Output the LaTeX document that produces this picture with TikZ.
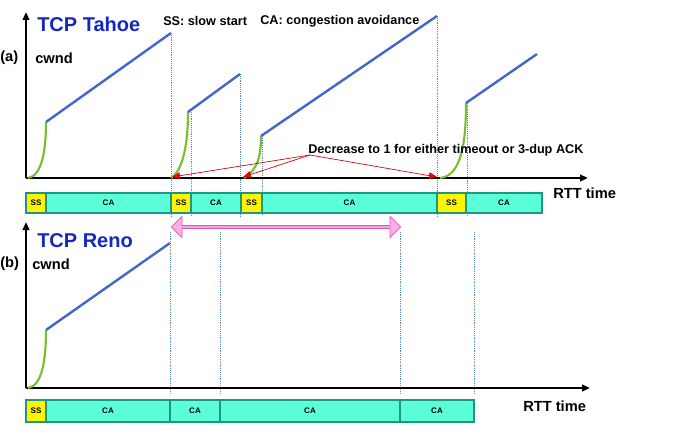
\documentclass[tikz,border=0pt]{standalone}
\usepackage{fontspec}
\setmainfont{Liberation Sans}
\usetikzlibrary{arrows.meta,shapes.arrows}
\definecolor{cablue}{RGB}{68,102,204}
\definecolor{ssgreen}{RGB}{120,190,50}
\definecolor{teal1}{RGB}{90,255,215}
\definecolor{tealb}{RGB}{30,150,130}
\definecolor{ssy}{RGB}{255,245,0}
\definecolor{pinkf}{RGB}{250,175,230}
\definecolor{pinkd}{RGB}{220,90,190}
\definecolor{titleblue}{RGB}{20,40,190}
\tikzset{
 axis/.style={line width=1.6pt,-{Triangle[length=6pt,width=5pt]}},
 ca/.style={draw=cablue,line width=1.8pt},
 ssc/.style={draw=ssgreen,line width=1.6pt},
 guide/.style={draw=cyan!50!blue!70,densely dotted,line width=0.4pt},
 seg/.style={draw=tealb,line width=0.8pt,fill=teal1,font=\bfseries\fontsize{6}{7}\selectfont},
 ssb/.style={draw=tealb,line width=0.8pt,fill=ssy,font=\bfseries\fontsize{6}{7}\selectfont},
 lbl/.style={font=\bfseries\fontsize{9.5}{11}\selectfont,inner sep=0pt},
 big/.style={font=\bfseries\fontsize{11}{12}\selectfont,inner sep=0pt},
 ttl/.style={font=\bfseries\fontsize{15}{16}\selectfont,text=titleblue,inner sep=0pt},
 redarr/.style={draw=red!80!black,line width=0.5pt,-{Triangle[length=6pt,width=5pt,fill=red]}}
}
\begin{document}
\begin{tikzpicture}[x=0.75pt,y=-0.75pt]
\useasboundingbox (0,0) rectangle (673,431);
% guides top
\foreach \x/\yt in {171/33,191/112,240/74,262/136,437/16,467/103}
  \draw[guide] (\x,\yt) -- (\x,216);
% guides bottom
\foreach \x in {170,220,400,474}
  \draw[guide] (\x,232) -- (\x,394);
% top axes
\coordinate (o1) at (26,178);
\draw[axis] (o1) -- (26,12);
\draw[axis] (o1) -- (588,178);
% tahoe curves
\draw[ssc] (28,178) .. controls (42,176) and (46,150) .. (46,122);
\draw[ca] (46,122) -- (171,33);
\draw[ssc] (171,178) .. controls (184,170) and (188,140) .. (188,112);
\draw[ca] (188,112) -- (240,74);
\draw[ssc] (244,178) .. controls (258,170) and (261,155) .. (261,136);
\draw[ca] (261,136) -- (437,16);
\draw[ssc] (440,178) .. controls (462,176) and (466,140) .. (466,103);
\draw[ca] (466,103) -- (537,54);
% labels top
\node[ttl,anchor=west] (t1) at (37,24) {TCP Tahoe};
\node[lbl,anchor=west] (ss) at (163,21) {SS: slow start};
\node[lbl,anchor=west] (cal) at (260,21) {CA: congestion avoidance};
\node[big,anchor=west] (a) at (0,58) {(a)};
\node[big,anchor=west] (c1) at (35,58) {cwnd};
\node[lbl,anchor=west] (dec) at (308,150) {Decrease to 1 for either timeout or 3-dup ACK};
\coordinate (r0) at (310,155);
\draw[redarr] (r0) -- (172,177);
\draw[redarr] (r0) -- (243,177);
\draw[redarr] (r0) -- (437,177);
% top bar
\foreach \a/\b/\t/\s in {26/46/SS/ssb,46/171/CA/seg,171/191/SS/ssb,191/241/CA/seg,241/262/SS/ssb,262/437/CA/seg,437/466/SS/ssb,466/542/CA/seg}
  \draw[\s] (\a,193) rectangle (\b,213) node[midway] {\t};
\node[big,anchor=west] (rt1) at (553,193) {RTT time};
% pink double arrow
\node[double arrow,draw=pinkd,fill=pinkf,line width=0.6pt,minimum height=172pt,minimum width=16pt,double arrow head extend=2pt,inner sep=0pt] (pk) at (286,227) {};
% bottom axes
\coordinate (o2) at (26,388);
\draw[axis] (o2) -- (26,222);
\draw[axis] (o2) -- (590,388);
\draw[ssc] (28,388) .. controls (42,386) and (46,360) .. (46,330);
\draw[ca] (46,330) -- (170,243);
\node[ttl,anchor=west] (t2) at (37,241) {TCP Reno};
\node[big,anchor=west] (b) at (0,264) {(b)};
\node[big,anchor=west] (c2) at (32,264) {cwnd};
\foreach \a/\b/\t/\s in {26/46/SS/ssb,46/170/CA/seg,170/220/CA/seg,220/400/CA/seg,400/474/CA/seg}
  \draw[\s] (\a,400) rectangle (\b,422) node[midway] {\t};
\node[big,anchor=west] (rt2) at (523,406) {RTT time};
\end{tikzpicture}
\end{document}
